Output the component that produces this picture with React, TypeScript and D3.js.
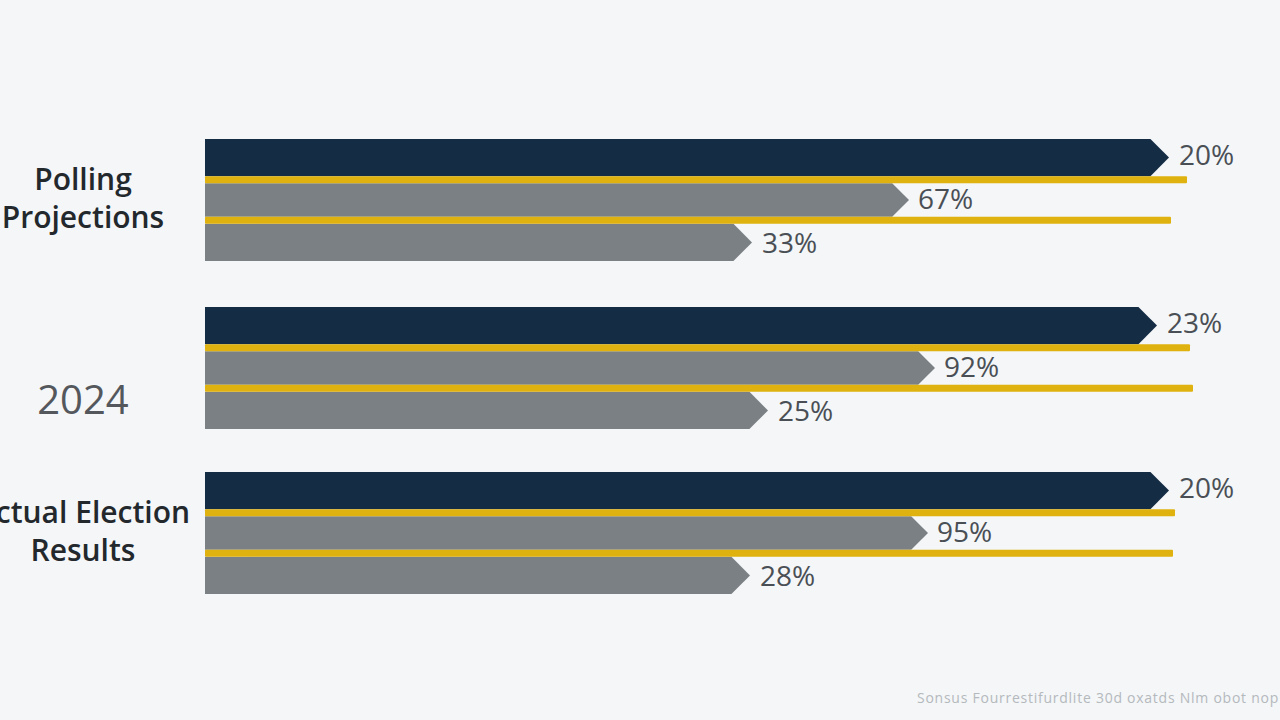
import * as d3 from 'd3';

const width = 1280;
const height = 720;

const groups = ['polling', 'year', 'actual'];
const rows = ['top', 'middle', 'bottom'];

// bar lengths on the hidden 0-100 axis, one entry per group
const navyValues = [96.4, 95.2, 96.4];
const grayUpperValues = [70.4, 73.0, 72.3];
const grayLowerValues = [54.7, 56.3, 54.5];
const lineUpperValues = [98.2, 98.5, 97.0];
const lineLowerValues = [96.6, 98.8, 96.8];

const navyLabels = ['20%', '23%', '20%'];
const grayUpperLabels = ['67%', '92%', '95%'];
const grayLowerLabels = ['33%', '25%', '28%'];

const sideLabels = [['Polling', 'Projections'], ['2024'], ['Actual Election', 'Results']];
const sourceNote = 'Sonsus Fourrestifurdlite 30d oxatds Nlm obot nop';

const FONT = '"Open Sans", sans-serif';
const NAVY = '#142c44';
const GRAY = '#7b8085';
const GOLD = '#dfb20f';
const LINE_H = 7;
const GROUP_H = 122;

const x = d3.scaleLinear().domain([0, 100]).range([205, 1205]);
// the three blocks are not evenly spaced in the picture
const yGroup = d3.scaleOrdinal<string, number>().domain(groups).range([139, 307, 472]);
const yRow = d3.scaleBand().domain(rows).range([0, GROUP_H]);

const arrowPath = (value: number, top: number, bottom: number) => {
  const tip = x(value);
  const mid = (top + bottom) / 2;
  const shoulder = tip - (bottom - top) / 2;
  const path = d3.path();
  path.moveTo(x(0), top);
  path.lineTo(shoulder, top);
  path.lineTo(tip, mid);
  path.lineTo(shoulder, bottom);
  path.lineTo(x(0), bottom);
  path.closePath();
  return path.toString();
};

const rowSeries = [
  { row: 'top', values: navyValues, labels: navyLabels, fill: NAVY, gap: 10, dy: -4 },
  { row: 'middle', values: grayUpperValues, labels: grayUpperLabels, fill: GRAY, gap: 9, dy: -2 },
  { row: 'bottom', values: grayLowerValues, labels: grayLowerLabels, fill: GRAY, gap: 10, dy: 0 },
];

const App = () => (
  <svg
    width={width}
    height={height}
    viewBox={`0 0 ${width} ${height}`}
    style={{ position: 'fixed', left: 0, top: 0, display: 'block' }}
    fontFamily={FONT}
  >
    <rect width={width} height={height} fill="#f4f6f8" />
    {groups.map((g, gi) => {
      const y0 = yGroup(g);
      const lines = sideLabels[gi];
      // the year sits lower than the block centre
      const center = y0 + GROUP_H / 2 + (lines.length === 1 ? 30 : -3);
      return (
        <g key={g}>
          {rowSeries.map((s) => {
            const rowTop = y0 + (yRow(s.row) as number);
            const top = rowTop + (s.row === 'top' ? 0 : LINE_H / 2);
            const bottom = rowTop + yRow.bandwidth() - (s.row === 'bottom' ? 0 : LINE_H / 2);
            return (
              <g key={s.row}>
                <path d={arrowPath(s.values[gi], top, bottom)} fill={s.fill} />
                <text
                  x={x(s.values[gi]) + s.gap}
                  y={(top + bottom) / 2 + s.dy}
                  dominantBaseline="central"
                  fontSize={28}
                  fill="#4a4f55"
                >
                  {s.labels[gi]}
                </text>
              </g>
            );
          })}
          {[lineUpperValues, lineLowerValues].map((values, li) => (
            <rect
              key={li}
              x={x(0)}
              y={y0 + (yRow(rows[li + 1]) as number) - LINE_H / 2}
              width={x(values[gi]) - x(0)}
              height={LINE_H}
              rx={1}
              fill={GOLD}
            />
          ))}
          {lines.map((t, i) => (
            <text
              key={t}
              x={83}
              y={center + (i - (lines.length - 1) / 2) * 38}
              textAnchor="middle"
              dominantBaseline="central"
              fontSize={lines.length === 1 ? 40 : 30}
              fontWeight={lines.length === 1 ? 400 : 600}
              fill={lines.length === 1 ? '#54585d' : '#23282d'}
            >
              {t}
            </text>
          ))}
        </g>
      );
    })}
    <text x={917} y={703} fontSize={14} letterSpacing={0.75} fill="#b4b9bd">
      {sourceNote}
    </text>
  </svg>
);

export default App;
